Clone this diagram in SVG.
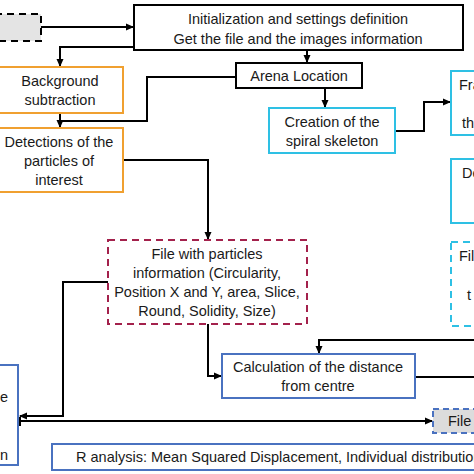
<svg xmlns="http://www.w3.org/2000/svg" width="474" height="474" viewBox="0 0 474 474">
<style>
text{font-family:"Liberation Sans",Arial,sans-serif;font-size:14.5px;fill:#1a1a1a}
.c{text-anchor:middle}
.box{fill:#fff;stroke-width:2}
.k{stroke:#000}
.or{stroke:#f0a030}
.cy{stroke:#2ec0e4}
.bl{stroke:#4a72c0}
.mr{stroke:#a3214c;stroke-dasharray:7 5}
.ln{fill:none;stroke:#000;stroke-width:2}
</style>
<defs>
<marker id="ah" markerUnits="userSpaceOnUse" markerWidth="8" markerHeight="8" refX="7" refY="4" orient="auto">
<path d="M0,0.5 L8,4 L0,7.5 Z" fill="#000"/>
</marker>
</defs>
<rect width="474" height="474" fill="#fff"/>
<g id="connectors">
<path class="ln" d="M41,27 H133" marker-end="url(#ah)"/>
<path class="ln" d="M134,47 H60 V66" marker-end="url(#ah)"/>
<path class="ln" d="M307,50 V62" marker-end="url(#ah)"/>
<path class="ln" d="M236,77 H147 V121 H60"/>
<path class="ln" d="M60,113 V127" marker-end="url(#ah)"/>
<path class="ln" d="M325,88 V107" marker-end="url(#ah)"/>
<path class="ln" d="M395,131 H424 V102 H450" marker-end="url(#ah)"/>
<path class="ln" d="M123,160 H208 V239" marker-end="url(#ah)"/>
<path class="ln" d="M108,282 H63 V416 H20" marker-end="url(#ah)"/>
<path class="ln" d="M208,324 V376 H221" marker-end="url(#ah)"/>
<path class="ln" d="M474,340 H319 V353" marker-end="url(#ah)"/>
<path class="ln" d="M415,377 H474"/>
<path class="ln" d="M20,421 H432" marker-end="url(#ah)"/>
<path class="ln" d="M20,417 V426"/>
</g>
<g id="start">
<rect x="-5" y="14" width="46" height="27" fill="#e4e4e4" stroke="#000" stroke-width="2" stroke-dasharray="7 5"/>
</g>
<g id="init">
<rect class="box k" x="134" y="5" width="329" height="45"/>
<text class="c" x="298" y="24">Initialization and settings definition</text>
<text class="c" x="298" y="44">Get the file and the images information</text>
</g>
<g id="background">
<rect class="box or" x="-3" y="67" width="126" height="46"/>
<text class="c" x="60" y="86">Background</text>
<text class="c" x="60" y="105">subtraction</text>
</g>
<g id="arena">
<rect class="box k" x="236" y="63" width="126" height="25"/>
<text class="c" x="299" y="81">Arena Location</text>
</g>
<g id="detections">
<rect class="box or" x="-3" y="128" width="126" height="64"/>
<text class="c" x="59" y="147">Detections of the</text>
<text class="c" x="59" y="166">particles of</text>
<text class="c" x="59" y="185">interest</text>
</g>
<g id="spiral">
<rect class="box cy" x="269" y="108" width="126" height="45"/>
<text class="c" x="332" y="127">Creation of the</text>
<text class="c" x="332" y="146">spiral skeleton</text>
</g>
<g id="frames">
<rect class="box cy" x="451" y="71" width="40" height="64"/>
<text x="459" y="90">Fra</text>
<text x="462" y="128">th</text>
</g>
<g id="detect2">
<rect class="box cy" x="451" y="159" width="40" height="64"/>
<text x="462" y="178">De</text>
</g>
<g id="file2">
<rect class="box cy" x="451" y="242" width="40" height="84" stroke-dasharray="7 5"/>
<text x="459" y="261">Fil</text>
<text x="467" y="300">t</text>
</g>
<g id="particles">
<rect class="box mr" x="108" y="240" width="199" height="84"/>
<text class="c" x="207" y="259">File with particles</text>
<text class="c" x="207" y="278">information (Circularity,</text>
<text class="c" x="207" y="297">Position X and Y, area, Slice,</text>
<text class="c" x="207" y="316">Round, Solidity, Size)</text>
</g>
<g id="distance">
<rect class="box bl" x="222" y="354" width="193" height="44"/>
<text class="c" x="318" y="372">Calculation of the distance</text>
<text class="c" x="318" y="391">from centre</text>
</g>
<g id="leftbox">
<rect class="box bl" x="-5" y="365" width="23" height="100"/>
<text x="0" y="402">e</text>
<text x="0" y="460">n</text>
</g>
<g id="file">
<rect x="433" y="409" width="50" height="24" fill="#dcdcdc" stroke="#4a72c0" stroke-width="2" stroke-dasharray="6 4"/>
<text x="448" y="426">File</text>
</g>
<g id="ranalysis">
<rect class="box bl" x="52" y="444" width="440" height="26"/>
<text x="76" y="462">R analysis: Mean Squared Displacement, Individual distribution</text>
</g>
</svg>
